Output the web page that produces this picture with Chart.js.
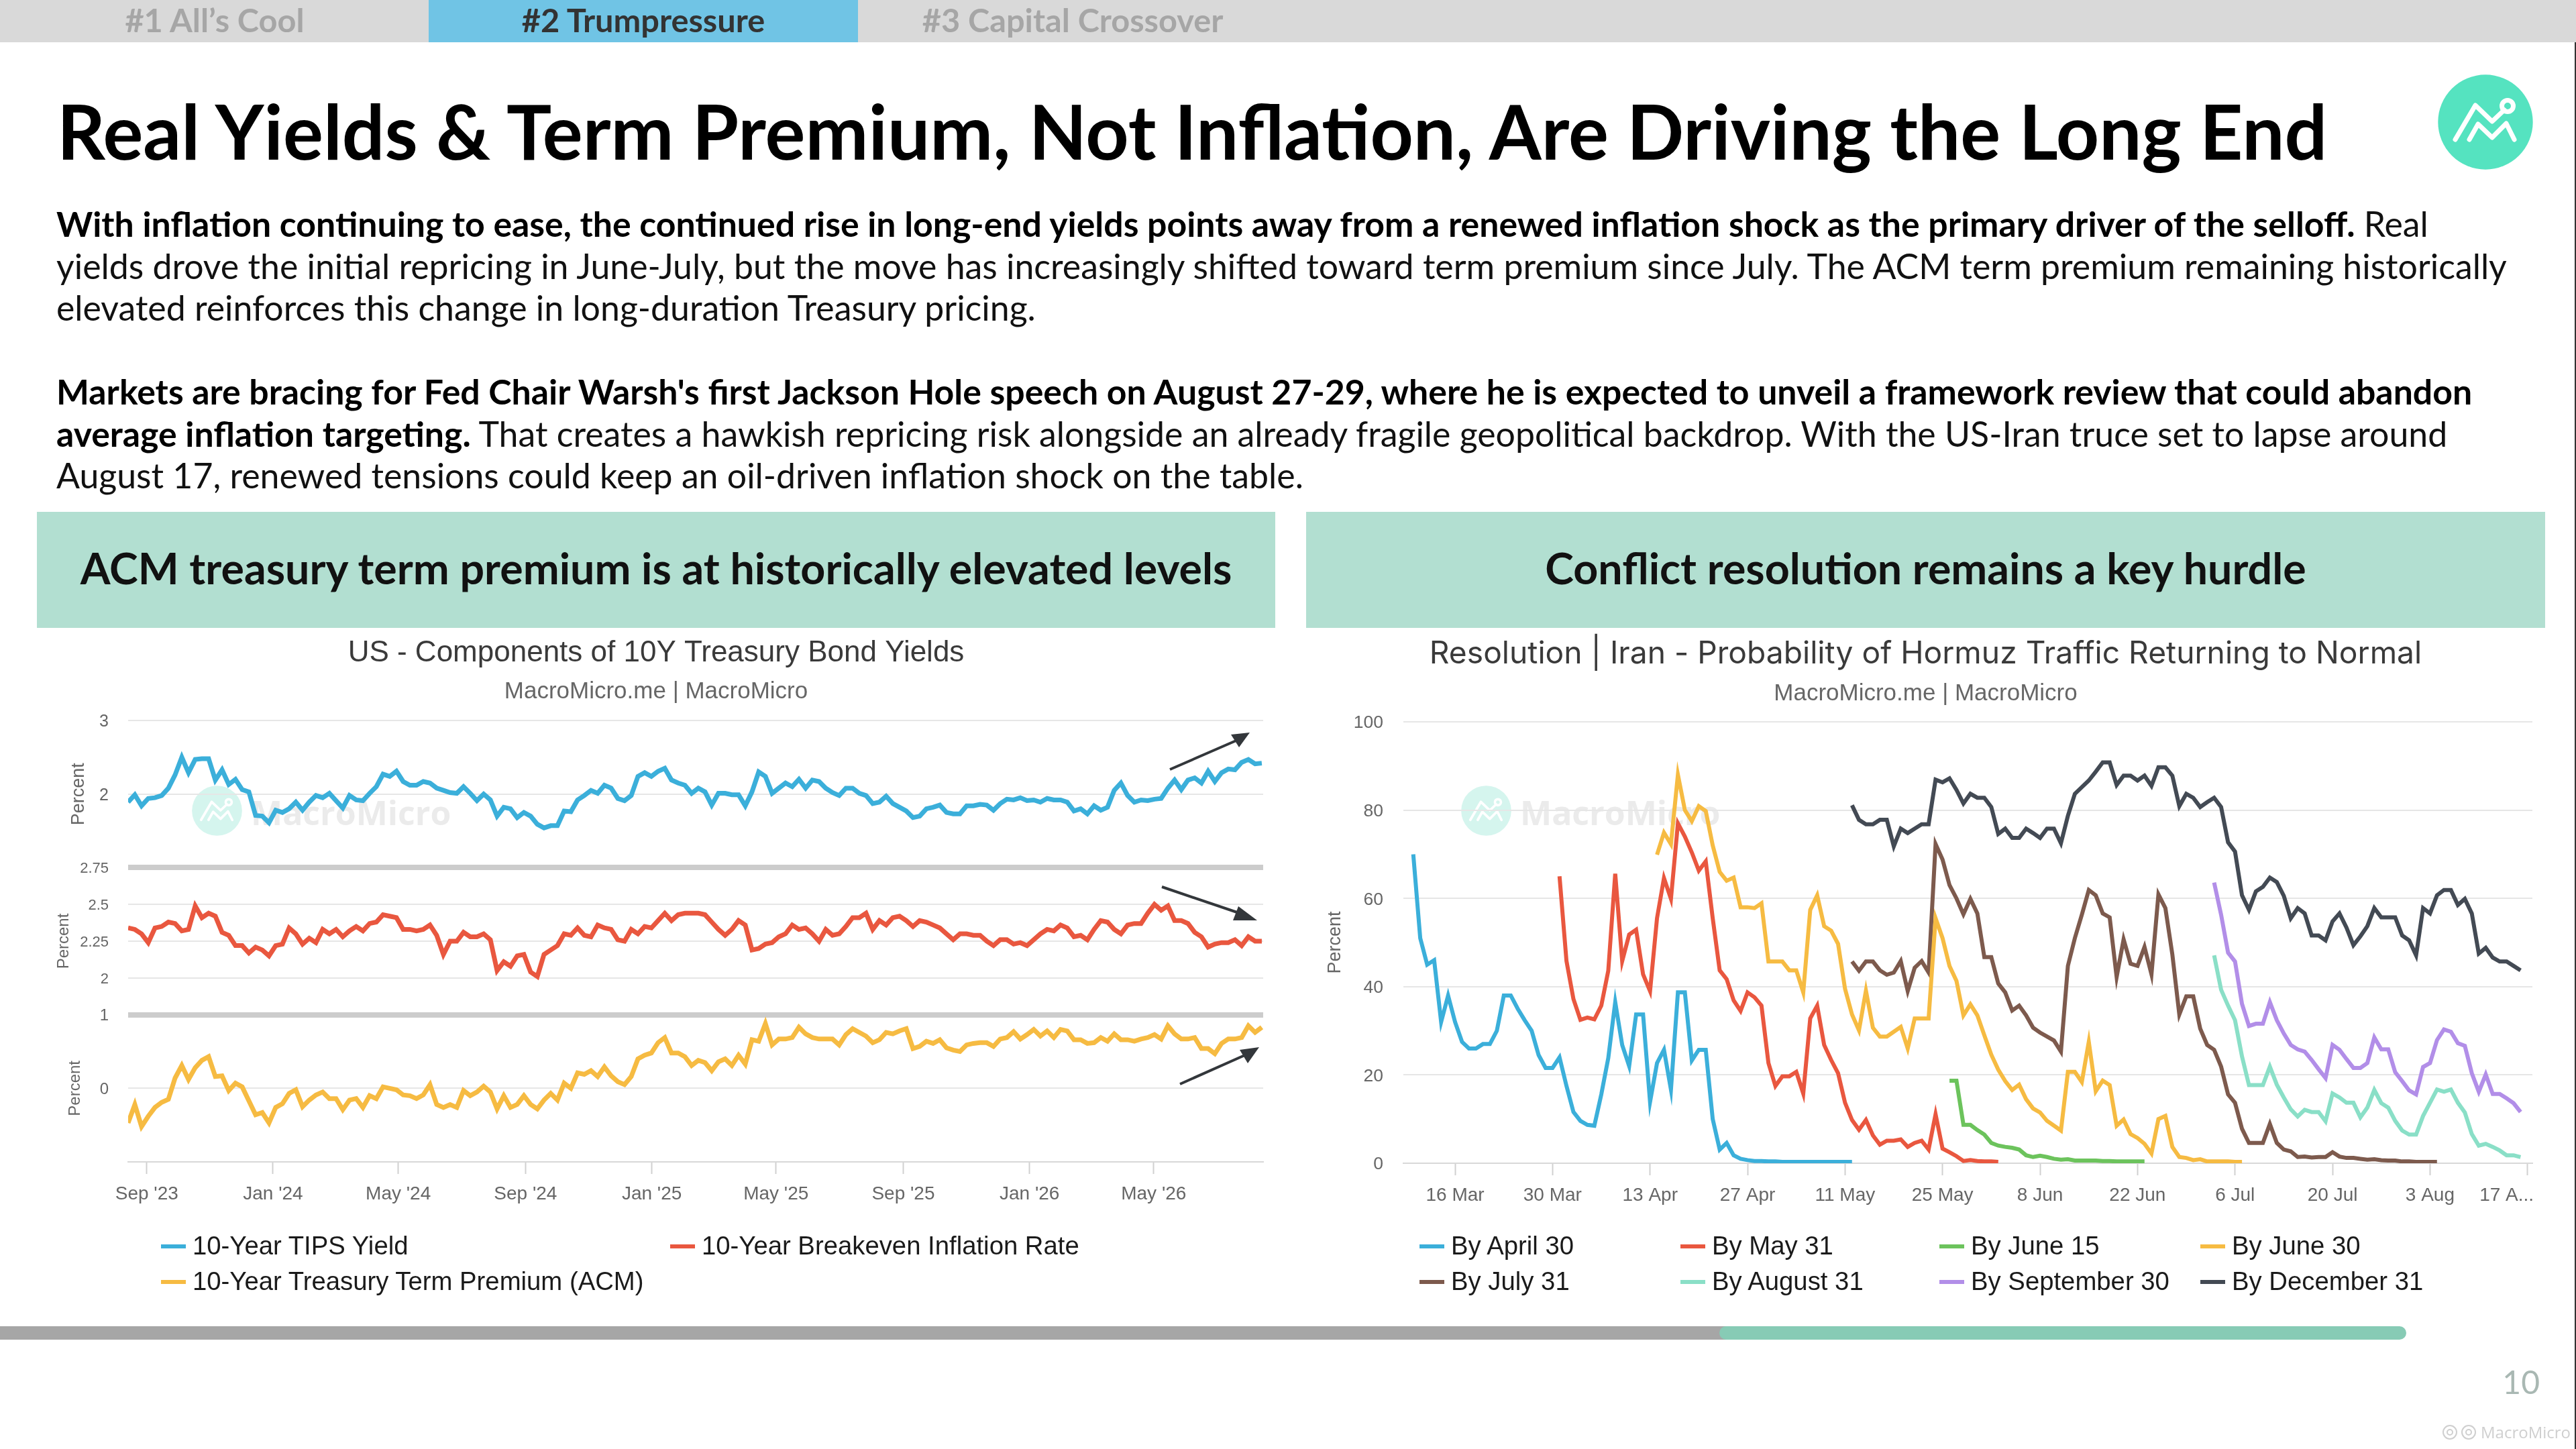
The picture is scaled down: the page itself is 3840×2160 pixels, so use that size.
<!DOCTYPE html>
<html>
<head>
<meta charset="utf-8">
<title>Real Yields & Term Premium</title>
<script src="https://cdn.jsdelivr.net/npm/chart.js@4"></script>
<style>
  html, body { margin: 0; padding: 0; background: #fff; }
  #slide { position: relative; width: 3840px; height: 2160px; overflow: hidden; font-family: Lato, sans-serif; color: #000; }
  .abs { position: absolute; }
  .tabbar { left: 0; top: 0; width: 3840px; height: 63px; background: #d9d9d9; }
  .tab { top: 0; width: 640px; height: 63px; line-height: 58px; text-align: center; font-size: 48.7px; font-weight: 700; color: #a6a6a6; }
  .tab.on { background: #70c4e5; color: #333; }
  h1 { position: absolute; left: 85px; top: 125px; margin: 0; font-size: 112.2px; line-height: 140px; font-weight: 700; white-space: nowrap; }
  .para { left: 84px; font-size: 51.8px; line-height: 62.6px; white-space: nowrap; color: #111; }
  .para b { font-weight: 700; color: #000; }
  .head { top: 763px; height: 173px; line-height: 166px; background: #b2dfd1; text-align: center; font-size: 64.5px; font-weight: 700; color: #111; white-space: nowrap; }
  canvas { position: absolute; }
  .wm-text { font-family: "Open Sans", sans-serif; font-weight: 700; font-size: 50px; color: #ebebeb; white-space: nowrap; line-height: 75px; }
  .legend-item { position: absolute; font-family: "Liberation Sans", sans-serif; font-size: 38.3px; line-height: 44px; color: #1a1a1a; white-space: nowrap; }
  .legend-item i { position: absolute; left: -47px; top: 20px; width: 37px; height: 6px; }
</style>
</head>
<body>
<div id="slide">
  <div class="abs tabbar"></div>
  <div class="abs tab" style="left:0">#1 All’s Cool</div>
  <div class="abs tab on" style="left:639px">#2 Trumpressure</div>
  <div class="abs tab" style="left:1279px">#3 Capital Crossover</div>

  <h1>Real Yields &amp; Term Premium, Not Inflation, Are Driving the Long End</h1>
  <svg class="abs" style="left:3634px;top:111px" width="142" height="142" viewBox="0 0 142 142">
    <circle cx="71" cy="71" r="70.7" fill="#55e3c0"/>
    <g fill="none" stroke="#fff" stroke-width="7" stroke-linecap="round" stroke-linejoin="round">
      <path d="M26 97L56 46L81 70L99 53"/><circle cx="104" cy="47" r="8.5"/><path d="M47 97L60 74L81 94L102 73L114 97"/>
    </g>
  </svg>
  <div class="abs" style="left:3838px;top:63px;width:2px;height:2097px;background:#333"></div>

  <div class="abs para" style="top:302px"><b>With inflation continuing to ease, the continued rise in long-end yields points away from a renewed inflation shock as the primary driver of the selloff.</b> Real<br>yields drove the initial repricing in June-July, but the move has increasingly shifted toward term premium since July. The ACM term premium remaining historically<br>elevated reinforces this change in long-duration Treasury pricing.</div>
  <div class="abs para" style="top:552px"><b>Markets are bracing for Fed Chair Warsh's first Jackson Hole speech on August 27-29, where he is expected to unveil a framework review that could abandon<br>average inflation targeting.</b> That creates a hawkish repricing risk alongside an already fragile geopolitical backdrop. With the US-Iran truce set to lapse around<br>August 17, renewed tensions could keep an oil-driven inflation shock on the table.</div>

  <div class="abs head" style="left:55px;width:1846px">ACM treasury term premium is at historically elevated levels</div>
  <div class="abs head" style="left:1947px;width:1847px">Conflict resolution remains a key hurdle</div>

  <!-- watermarks sit under the transparent canvases -->
  <svg class="abs" style="left:286px;top:1171px" width="75" height="75" viewBox="0 0 142 142">
    <circle cx="71" cy="71" r="70.7" fill="#d5f5ee"/>
    <g fill="none" stroke="#fff" stroke-width="7" stroke-linecap="round" stroke-linejoin="round"><path d="M26 97L56 46L81 70L99 53"/><circle cx="104" cy="47" r="8.5"/><path d="M47 97L60 74L81 94L102 73L114 97"/></g>
  </svg>
  <div class="abs wm-text" style="left:374px;top:1174px">MacroMicro</div>
  <svg class="abs" style="left:2178px;top:1171px" width="75" height="75" viewBox="0 0 142 142">
    <circle cx="71" cy="71" r="70.7" fill="#d5f5ee"/>
    <g fill="none" stroke="#fff" stroke-width="7" stroke-linecap="round" stroke-linejoin="round"><path d="M26 97L56 46L81 70L99 53"/><circle cx="104" cy="47" r="8.5"/><path d="M47 97L60 74L81 94L102 73L114 97"/></g>
  </svg>
  <div class="abs wm-text" style="left:2266px;top:1174px">MacroMicro</div>

  <canvas id="leftChart" width="1846" height="884" style="left:55px;top:936px"></canvas>
  <canvas id="rightChart" width="1847" height="884" style="left:1947px;top:936px"></canvas>

  <!-- hand drawn arrows on the left chart -->
  <svg class="abs" style="left:0;top:0" width="3840" height="2160" fill="#33373b" stroke="#33373b">
    <line x1="1744" y1="1147" x2="1845" y2="1103" stroke-width="4"/><polygon points="1863,1092 1835,1095 1847,1114" stroke="none"/>
    <line x1="1732" y1="1322" x2="1850" y2="1362" stroke-width="4"/><polygon points="1874,1372 1846,1351 1838,1372" stroke="none"/>
    <line x1="1759" y1="1616" x2="1860" y2="1571" stroke-width="4"/><polygon points="1877,1561 1848,1565 1860,1585" stroke="none"/>
  </svg>

  <div id="legends"></div>

  <div class="abs" style="left:0;top:1977px;width:2600px;height:20px;background:#a6a6a6"></div>
  <div class="abs" style="left:2563px;top:1977px;width:1024px;height:20px;background:#87cbb5;border-radius:10px"></div>
  <div class="abs" style="left:3720px;top:2030px;width:66px;text-align:right;font-size:48px;line-height:60px;color:#a9b8b3">10</div>
  <div class="abs" style="left:3698px;top:2119px;font-family:'Open Sans',sans-serif;font-size:24px;line-height:32px;color:#cfcfcf;white-space:nowrap">MacroMicro</div>
  <svg class="abs" style="left:3640px;top:2123px" width="52" height="24" viewBox="0 0 52 24" fill="none" stroke="#cfcfcf" stroke-width="2"><circle cx="12" cy="12" r="10"/><circle cx="12" cy="12" r="4"/><circle cx="40" cy="12" r="10"/><circle cx="40" cy="12" r="4"/></svg>
</div>

<script>
// Left chart: one reading every 10 px of plot width, from Aug '23 to Aug '26
const leftStepDays = 6.482;
const tipsYield = [
  1.89,1.99,1.84,1.94,1.95,1.98,2.08,2.26,2.50,2.29,2.47,2.48,2.48,2.19,2.33,2.13,2.20,2.06,2.03,1.71,1.70,1.61,1.78,1.75,1.80,1.89,1.78,1.89,1.98,1.95,2.01,1.91,1.81,1.98,1.92,1.91,2.01,2.10,2.27,2.24,2.31,2.17,2.12,
  2.12,2.17,2.15,2.08,2.05,2.02,2.01,2.10,2.01,1.91,2.00,1.92,1.70,1.82,1.80,1.68,1.75,1.70,1.59,1.54,1.57,1.57,1.77,1.76,1.92,1.98,2.05,2.01,2.12,2.08,1.94,1.91,1.98,2.24,2.29,2.24,2.31,2.35,2.19,2.15,2.12,2.01,2.08,
  2.03,1.85,2.01,2.01,1.99,1.99,1.84,2.03,2.30,2.24,2.01,2.08,2.15,2.10,2.20,2.08,2.19,2.17,2.08,2.02,1.98,2.08,2.08,2.01,1.98,1.87,1.89,1.97,1.87,1.82,1.77,1.68,1.70,1.80,1.82,1.85,1.75,1.73,1.73,1.84,1.84,1.86,
  1.85,1.78,1.87,1.93,1.92,1.95,1.91,1.92,1.89,1.94,1.92,1.92,1.89,1.77,1.80,1.73,1.84,1.78,1.82,2.05,2.15,1.98,1.89,1.92,1.91,1.93,1.94,2.08,2.19,2.06,2.19,2.22,2.15,2.31,2.17,2.29,2.34,2.33,2.43,2.47,2.41,2.42
];
const breakevenRate = [
  2.34,2.33,2.30,2.24,2.34,2.35,2.38,2.37,2.32,2.33,2.49,2.41,2.44,2.42,2.31,2.29,2.22,2.22,2.17,2.21,2.19,2.15,2.22,2.23,2.34,2.30,2.23,2.27,2.24,2.33,2.30,2.33,2.28,2.32,2.35,2.32,2.37,2.38,2.43,2.42,2.41,2.33,2.33,
  2.32,2.33,2.36,2.29,2.16,2.25,2.25,2.31,2.28,2.28,2.30,2.26,2.05,2.11,2.08,2.15,2.16,2.04,2.01,2.16,2.19,2.22,2.30,2.29,2.34,2.29,2.28,2.36,2.34,2.33,2.26,2.25,2.33,2.30,2.35,2.34,2.39,2.44,2.39,2.43,2.44,2.44,2.44,
  2.43,2.38,2.33,2.29,2.33,2.39,2.36,2.19,2.20,2.23,2.24,2.28,2.30,2.36,2.33,2.34,2.30,2.25,2.33,2.29,2.30,2.35,2.41,2.41,2.44,2.33,2.39,2.36,2.41,2.42,2.39,2.35,2.39,2.38,2.36,2.34,2.30,2.26,2.30,2.30,2.29,2.29,
  2.25,2.22,2.26,2.26,2.23,2.24,2.22,2.26,2.30,2.33,2.32,2.36,2.34,2.28,2.29,2.26,2.33,2.39,2.38,2.33,2.30,2.36,2.37,2.37,2.44,2.50,2.46,2.49,2.39,2.39,2.37,2.31,2.28,2.21,2.23,2.24,2.24,2.26,2.22,2.28,2.25,2.25
];
const termPremium = [
  -0.47,-0.22,-0.52,-0.38,-0.26,-0.19,-0.15,0.14,0.31,0.12,0.28,0.38,0.43,0.16,0.17,-0.03,0.07,0.02,-0.17,-0.36,-0.33,-0.47,-0.26,-0.21,-0.07,-0.02,-0.25,-0.16,-0.09,-0.05,-0.14,-0.14,-0.29,-0.16,-0.14,-0.26,-0.10,-0.14,0.02,0,-0.02,-0.09,-0.10,
  -0.14,-0.09,0.05,-0.22,-0.26,-0.22,-0.26,-0.03,-0.10,-0.05,0.03,-0.05,-0.28,-0.10,-0.26,-0.22,-0.10,-0.22,-0.28,-0.16,-0.07,-0.16,0.07,0,0.21,0.19,0.24,0.16,0.29,0.17,0.09,0.05,0.16,0.40,0.45,0.48,0.62,0.69,0.48,0.48,0.43,0.31,0.38,
  0.35,0.24,0.36,0.40,0.31,0.45,0.33,0.66,0.64,0.88,0.59,0.67,0.67,0.69,0.83,0.74,0.69,0.67,0.67,0.67,0.59,0.73,0.81,0.76,0.71,0.62,0.66,0.76,0.74,0.78,0.81,0.54,0.57,0.64,0.61,0.66,0.55,0.52,0.50,0.59,0.61,0.62,
  0.62,0.57,0.67,0.69,0.77,0.67,0.73,0.80,0.71,0.78,0.69,0.80,0.78,0.66,0.66,0.61,0.62,0.69,0.64,0.74,0.66,0.66,0.64,0.67,0.69,0.73,0.67,0.85,0.74,0.67,0.67,0.69,0.54,0.54,0.47,0.61,0.67,0.67,0.69,0.85,0.76,0.83
];
const leftLabels = ['10-Year TIPS Yield', '10-Year Breakeven Inflation Rate', '10-Year Treasury Term Premium (ACM)'];
const leftColors = ['#3bafda', '#e9573f', '#f6bb42'];
const leftTickDays = [18, 140, 261, 384, 506, 626, 749, 871, 991];
const leftTickLabels = ["Sep '23", "Jan '24", "May '24", "Sep '24", "Jan '25", "May '25", "Sep '25", "Jan '26", "May '26"];

// Right chart: daily readings, x is days counted from 16 Mar
const byApril30 = [70,51,45,46,32,38,32,27.5,26,26,27,27,30,38,38,35,32.4,30,24.5,21.6,21.6,24,17.5,11.6,9.6,8.7,8.5,15.6,23.8,36.5,26.8,22,33.7,33.7,13.9,22.7,25.7,16.7,38.7,38.7,23.3,25.7,25.7,10,3.1,4.6,1.8,1,0.7,0.5,0.5,0.4,0.4,0.3,0.3,0.3,0.3,0.3,0.3,0.3,0.3,0.3,0.3,0.3];
const byMay31 = [65,45.8,37.2,32.5,33,32.6,35.7,43.6,65.6,45.8,51.8,52.9,42.8,39,55.5,64.6,59.9,77,74,70.4,66.3,68.4,55.5,43.7,41.7,36.9,34.5,38.7,37.6,35.7,22.7,17.5,19.7,19.7,20.7,15.8,32.8,35.7,26.8,23.4,20.4,13.7,9.8,7.6,9.8,6.3,4.2,5.1,5.1,5.4,3.7,4.6,5.1,3.1,11.1,3.3,2.5,1.6,0.5,0.7,0.5,0.4,0.4,0.3];
const byJune15 = [18.7,18.7,8.7,8.7,7.5,6.5,4.6,4,3.7,3.5,3.1,1.8,1.4,1.7,1.4,1,0.8,0.9,0.6,0.6,0.6,0.6,0.5,0.5,0.4,0.4,0.4,0.4,0.4];
const byJune30 = [69.9,74.9,72.3,88,80,77.5,80.9,79.8,72,66,64,64.7,58,58,57.8,58.9,45.7,45.7,45.7,43.7,43.7,38.7,57.4,60.7,53.7,52.7,49.7,39.5,33.7,30.1,39.1,30.7,28.7,28.7,29.8,30.9,26,32.8,32.8,32.8,55.5,51,44.7,41.3,33.5,36,33.5,29,24.6,21.2,18.6,16.6,17.8,14.5,12.4,11.5,9.6,8.5,7.4,20.7,20.7,18.4,27.5,16.3,18.7,17.7,8.5,9.9,6.6,5.7,4.4,2.2,10,10.7,3.7,1.4,1.2,0.7,0.9,0.4,0.4,0.4,0.4,0.3,0.3];
const byJuly31 = [45.7,43.6,45.7,45.7,43.7,42.7,43.2,45.8,39,44.3,45.8,43.2,72.3,68.8,63,60,56.4,59.9,56.6,46.7,46.7,40.7,38.7,34.6,35.7,33.5,30.7,29.6,28.7,27.8,25.3,44.7,51,56.3,61.9,60.7,56.6,55.7,42.2,50.7,45.2,44.7,49,42.8,60.9,57.8,47.3,33.7,37.8,37.8,30.5,26.8,25.7,21.9,15.6,13.7,7.8,4.6,4.6,4.6,8.9,4.6,3.1,2.7,1.4,1.5,1.3,1.4,1.4,2.5,1.5,1.2,1.2,1,0.8,0.9,0.7,0.6,0.6,0.4,0.4,0.3,0.3,0.3,0.3];
const byAugust31 = [47.1,39.3,35.7,32.4,24.2,17.7,17.7,17.7,21.9,17.8,14.9,12.2,10.6,12.1,11.6,11.6,9.5,15.8,14.9,13.7,13.7,10.4,12.6,16.6,13.6,12.6,9.6,7.4,6.5,6.5,10.7,13.7,16.7,16.2,16.7,13.7,11.5,6.6,4,4.4,3.7,2.9,1.8,1.8,1.4];
const bySeptember30 = [63.6,56.3,47.7,45.7,36.1,31.1,31.6,31.6,36.5,32.4,29.4,26.8,25.8,25.3,23.4,21.3,19.3,26.8,25.7,23.6,21.6,21.6,22.7,28.5,25.8,25.8,20.6,18.6,16.5,15.6,21.8,22.7,27.9,30.3,29.8,27.2,26.6,20.4,16.2,20.1,15.7,15.7,14.7,13.6,11.6];
const byDecember31 = [81.1,77.8,76.8,76.8,77.8,77.8,71.8,75.8,74.8,75.8,76.8,76.8,86.9,86.3,87.2,84.6,81.5,83.7,82.8,82.8,80.7,74.6,75.8,73.7,73.7,75.8,74.8,73.7,75.8,75.8,72.5,78.7,83.7,85.2,86.7,88.7,90.8,90.8,85.7,87.8,87.8,86.7,87.8,85.5,89.7,89.7,87.8,80.9,83.7,82.8,80.7,81.8,82.8,80.7,72.7,70.6,60.7,57.4,61.6,62.6,64.7,63.7,60.6,55.5,57.8,56.6,51.6,51.6,50.5,54.8,56.6,53.4,49.4,51.4,53.7,57.8,55.7,55.7,55.7,51.6,50.5,47.1,57.8,56.6,60.7,61.9,61.9,58.5,59.9,56.6,47.5,48.8,46.6,45.7,45.7,44.7,43.7];
const rightSeries = [byApril30, byMay31, byJune15, byJune30, byJuly31, byAugust31, bySeptember30, byDecember31];
const rightStarts = [-6, 15, 71, 29, 57, 109, 109, 57];
const rightLabels = ['By April 30', 'By May 31', 'By June 15', 'By June 30', 'By July 31', 'By August 31', 'By September 30', 'By December 31'];
const rightColors = ['#3bafda', '#e9573f', '#6cc35c', '#f6bb42', '#7d5a4d', '#8adfc7', '#b28ee8', '#434a54'];
const rightTickDays = [0, 14, 28, 42, 56, 70, 84, 98, 112, 126, 140, 154];
// the last label is pushed left inside the plot, hence the trailing spaces
const rightTickLabels = ['16 Mar', '30 Mar', '13 Apr', '27 Apr', '11 May', '25 May', '8 Jun', '22 Jun', '6 Jul', '20 Jul', '3 Aug', '17 A...        '];

const FONT = '"Liberation Sans", Arial, sans-serif';
Chart.defaults.font.family = FONT;
Chart.defaults.color = '#666';

const GRID = '#e6e6e6';
const BAND = '#cccccc';

function titlePlugins(title, titleFont, bottomGap) {
  return {
    legend: { display: false },
    tooltip: { enabled: false },
    title: { display: true, text: title, color: '#3a3a3a', font: titleFont, padding: { top: 11, bottom: 11 } },
    subtitle: { display: true, text: 'MacroMicro.me | MacroMicro', color: '#666', font: { size: 35, weight: 'normal' }, padding: { top: 0, bottom: bottomGap } }
  };
}

function xAxis(min, max, days, labels, height) {
  return {
    type: 'linear', min, max,
    afterBuildTicks: s => { s.ticks = days.map(v => ({ value: v })); },
    afterFit: s => { s.height = height; s.paddingLeft = 0; s.paddingRight = 0; },
    border: { color: '#d8d8d8', width: 2 },
    grid: { drawOnChartArea: false, tickLength: 18, tickColor: '#d0d0d0', tickWidth: 2 },
    ticks: { autoSkip: false, maxRotation: 0, padding: 13, color: '#666', font: { size: 28 }, callback: (v, i) => labels[i] }
  };
}

// one panel of the stacked left chart
function panel(min, max, step, fontSize, titleSize, titlePad, hidden, bandAt) {
  return {
    type: 'linear', position: 'left', stack: 'yields', stackWeight: 1, min, max,
    afterFit: s => { s.width = 118; },
    border: { display: false },
    grid: {
      drawTicks: false,
      color: c => (bandAt.includes(c.tick.value) ? BAND : GRID),
      lineWidth: c => (bandAt.includes(c.tick.value) ? 8 : 2)
    },
    ticks: { stepSize: step, padding: 29, labelOffset: 2, color: '#666', font: { size: fontSize }, callback: v => (hidden === v ? '' : v) },
    title: { display: true, text: 'Percent', color: '#666', font: { size: titleSize }, padding: { top: titlePad, bottom: 0 } }
  };
}

function lineSet(label, data, color, axis, width) {
  return { label, data, yAxisID: axis, borderColor: color, backgroundColor: color, borderWidth: width, pointRadius: 0, tension: 0, borderJoinStyle: 'miter', spanGaps: false };
}

const leftX = tipsYield.map((_, i) => i * leftStepDays);
const toXY = values => values.map((y, i) => ({ x: leftX[i], y }));

new Chart(document.getElementById('leftChart'), {
  type: 'line',
  data: {
    datasets: [
      lineSet(leftLabels[0], toXY(tipsYield), leftColors[0], 'yTips', 7),
      lineSet(leftLabels[1], toXY(breakevenRate), leftColors[1], 'yBreakeven', 7),
      lineSet(leftLabels[2], toXY(termPremium), leftColors[2], 'yTerm', 7)
    ]
  },
  options: {
    responsive: false, devicePixelRatio: 1, animation: false,
    parsing: false, normalized: true,
    layout: { autoPadding: false, padding: { left: 18, right: 18 } },
    plugins: titlePlugins('US - Components of 10Y Treasury Bond Yields', { size: 44, weight: 'normal' }, 21.2),
    scales: {
      x: xAxis(0, 1096.8, leftTickDays, leftTickLabels, 88),
      // later scales in a left stack are placed above earlier ones
      yTerm: panel(-1, 1, 1, 24, 24, 24.6, -1, [1]),
      yBreakeven: panel(1.75, 2.75, 0.25, 22, 24, 7.6, 1.75, [1.75, 2.75]),
      yTips: panel(1, 3, 1, 25, 27, 28.8, 1, [1])
    }
  }
});

new Chart(document.getElementById('rightChart'), {
  type: 'line',
  data: {
    datasets: rightSeries.map((values, s) => lineSet(
      rightLabels[s],
      values.map((y, i) => ({ x: rightStarts[s] + i, y })),
      rightColors[s],
      'y',
      6
    ))
  },
  options: {
    responsive: false, devicePixelRatio: 1, animation: false,
    parsing: false, normalized: true,
    layout: { autoPadding: false, padding: { left: 19, right: 19 } },
    plugins: titlePlugins('Resolution | Iran - Probability of Hormuz Traffic Returning to Normal', { family: 'Inter', size: 46.2, weight: 'normal' }, 20.6),
    scales: {
      x: xAxis(-7.42, 154.7, rightTickDays, rightTickLabels, 86),
      y: {
        type: 'linear', position: 'left', min: 0, max: 100,
        afterFit: s => { s.width = 126; },
        border: { display: false },
        grid: { drawTicks: false, color: GRID, lineWidth: 2 },
        ticks: { stepSize: 20, padding: 30, labelOffset: 2, color: '#666', font: { size: 26.5 } },
        title: { display: true, text: 'Percent', color: '#666', font: { size: 27 }, padding: { top: 8.8, bottom: 0 } }
      }
    }
  }
});

// Legends are laid out in fixed columns, so they are plain text under the charts
function addLegend(labels, colors, cols, rows) {
  const box = document.getElementById('legends');
  labels.forEach((text, i) => {
    const item = document.createElement('div');
    item.className = 'legend-item';
    item.style.left = cols[i % cols.length] + 'px';
    item.style.top = rows[Math.floor(i / cols.length)] + 'px';
    item.innerHTML = '<i style="background:' + colors[i] + '"></i>' + text;
    box.appendChild(item);
  });
}
addLegend(leftLabels, leftColors, [287, 1046], [1835, 1888]);
addLegend(rightLabels, rightColors, [2163, 2552, 2938, 3327], [1835, 1888]);
</script>
</body>
</html>
